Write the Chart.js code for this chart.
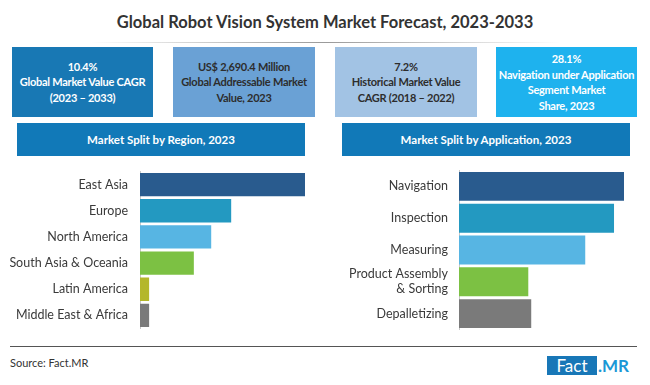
<!DOCTYPE html>
<html>
<head>
<meta charset="utf-8">
<script src="https://cdn.jsdelivr.net/npm/chart.js@4.4.1/dist/chart.umd.min.js"></script>
<style>
  body { margin: 0; width: 650px; height: 385px; background: #fff; position: relative; overflow: hidden; font-family: Lato, "Open Sans", sans-serif; }
  .abs { position: absolute; }
  #title { left: 0; top: 12px; width: 650px; text-align: center; font-size: 16.5px; font-weight: bold; color: #333; }
  #rule { left: 90px; top: 42px; width: 470px; height: 1px; background: linear-gradient(to right, #fff, #9a9a9a 50%, #fff); }
  .box { top: 47px; height: 70px; display: flex; align-items: center; justify-content: center; text-align: center; font-size: 11px; letter-spacing: -0.25px; white-space: nowrap; font-weight: bold; line-height: 15.5px; }
  .head { top: 123px; height: 33px; background: #1179b8; color: #fff; display: flex; align-items: center; justify-content: center; font-size: 11.5px; font-weight: bold; }
  canvas { position: absolute; }
  #foot { left: 10px; top: 346px; width: 627px; height: 1px; background: #555; }
  #src { left: 10px; top: 356px; font-size: 11px; color: #333; }
  #logoA { left: 547px; top: 356px; width: 50px; height: 19px; background: #1877b7; color: #fff; font-size: 17px; line-height: 19px; text-align: center; }
  #logoB { left: 598px; top: 356px; font-size: 17px; line-height: 19px; color: #1a98d6; font-weight: bold; }
</style>
</head>
<body>
<div id="title" class="abs">Global Robot Vision System Market Forecast, 2023-2033</div>
<div id="rule" class="abs"></div>

<div class="abs box" style="left:12px;width:141px;background:#1878b4;color:#fff;">10.4%<br>Global Market Value CAGR<br>(2023 – 2033)</div>
<div class="abs box" style="left:173px;width:142px;background:#6aa1d5;color:#2d2d2d;">US$ 2,690.4 Million<br>Global Addressable Market<br>Value, 2023</div>
<div class="abs box" style="left:335px;width:142px;background:#a2c3e4;color:#2d2d2d;">7.2%<br>Historical Market Value<br>CAGR (2018 – 2022)</div>
<div class="abs box" style="left:496px;width:141px;background:#1eb2ee;color:#fff;">28.1%<br>Navigation under Application<br>Segment Market<br>Share, 2023</div>

<div class="abs head" style="left:17px;width:288px;">Market Split by Region, 2023</div>
<div class="abs head" style="left:342px;width:288px;">Market Split by Application, 2023</div>

<canvas id="regionChart" width="305" height="180" style="left:0;top:160px;"></canvas>
<canvas id="appChart" width="299" height="180" style="left:325px;top:160px;"></canvas>

<div id="foot" class="abs"></div>
<div id="src" class="abs">Source: Fact.MR</div>
<div id="logoA" class="abs">Fact</div>
<div id="logoB" class="abs">.MR</div>

<script>
// region split, 2023 (share %)
const regionLabels = ["East Asia", "Europe", "North America", "South Asia & Oceania", "Latin America", "Middle East & Africa"];
const regionValues = [38.0, 21.0, 16.4, 12.4, 2.1, 2.1];

// application split, 2023 (share %)
const appLabels = ["Navigation", "Inspection", "Measuring", ["Product Assembly", "& Sorting"], "Depalletizing"];
const appValues = [28.1, 26.4, 21.5, 11.8, 12.3];

const regionColors = ["#295b8e", "#2399c1", "#57b5e3", "#7cc143", "#b4b72b", "#7a7a7a"];
const appColors = ["#295b8e", "#2399c1", "#57b5e3", "#7cc143", "#7a7a7a"];

function barChart(id, labels, values, colors, axisWidth, tickPad, barPct, pad) {
  return new Chart(document.getElementById(id), {
    type: "bar",
    data: {
      labels,
      datasets: [{
        data: values,
        backgroundColor: colors,
        barPercentage: barPct,
        categoryPercentage: 1
      }]
    },
    options: {
      indexAxis: "y",
      responsive: false,
      animation: false,
      layout: { padding: pad },
      plugins: { legend: { display: false }, tooltip: { enabled: false } },
      scales: {
        x: { display: false, min: 0, max: Math.max(...values) },
        y: {
          grid: { display: false },
          border: { color: "#c8c8c8", width: 1 },
          ticks: { color: "#3a3a3a", font: { family: "Lato", size: 12.5 }, padding: tickPad },
          afterFit: s => { s.width = axisWidth; }
        }
      }
    }
  });
}

barChart("regionChart", regionLabels, regionValues, regionColors, 140, 4, 0.89, { top: 6, bottom: 4, left: 0, right: 0 });
barChart("appChart", appLabels, appValues, appColors, 134, 3, 0.91, { top: 10, bottom: 5, left: 0, right: 0 });
</script>
</body>
</html>
